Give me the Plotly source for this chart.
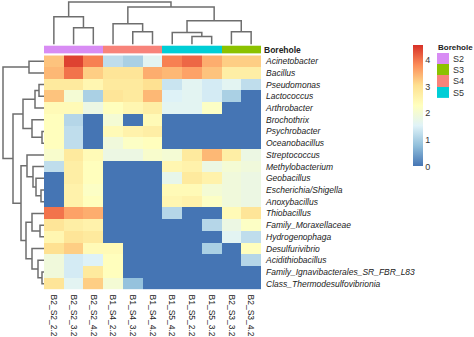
import plotly.graph_objects as go

W, H = 474, 337

species = ["Acinetobacter", "Bacillus", "Pseudomonas", "Lactococcus", "Arthrobacter",
           "Brochothrix", "Psychrobacter", "Oceanobacillus", "Streptococcus",
           "Methylobacterium", "Geobacillus", "Escherichia/Shigella", "Anoxybacillus",
           "Thiobacillus", "Family_Moraxellaceae", "Hydrogenophaga", "Desulfurivibrio",
           "Acidithiobacillus", "Family_Ignavibacterales_SR_FBR_L83",
           "Class_Thermodesulfovibrionia"]

samples = ["B2_S2_2.2", "B2_S2_3.2", "B2_S2_4.2", "B1_S4_2.2", "B1_S4_3.2", "B1_S4_4.2",
           "B1_S5_4.2", "B1_S5_2.2", "B1_S5_3.2", "B2_S3_3.2", "B2_S3_4.2"]

borehole = ["S2", "S2", "S2", "S4", "S4", "S4", "S5", "S5", "S5", "S3", "S3"]
borehole_levels = ["S2", "S3", "S4", "S5"]
borehole_colors = ["#D88CF4", "#8CC200", "#F8837A", "#00CED6"]

values = [
    [3.3, 4.4, 3.9, 1.2, 1.0, 1.6, 3.9, 4.1, 3.5, 3.2, 3.2],
    [3.4, 4.0, 3.2, 2.9, 2.9, 3.5, 3.4, 3.6, 3.3, 2.7, 2.7],
    [2.8, 2.8, 2.5, 2.8, 2.8, 3.0, 1.3, 1.6, 1.4, 1.6, 1.2],
    [3.3, 2.0, 1.0, 2.9, 2.8, 3.4, 1.5, 1.6, 1.4, 1.0, 0.0],
    [2.4, 2.4, 1.8, 2.3, 2.5, 2.7, 1.6, 1.6, 2.2, 0.0, 0.0],
    [2.3, 1.1, 0.0, 2.0, 0.0, 2.4, 0.0, 0.0, 0.0, 0.0, 0.0],
    [2.3, 1.2, 0.0, 2.4, 2.6, 2.7, 0.0, 0.0, 0.0, 0.0, 0.0],
    [2.3, 1.2, 0.0, 1.9, 2.2, 2.3, 0.0, 0.0, 0.0, 0.0, 0.0],
    [2.1, 2.8, 2.4, 1.8, 1.8, 2.1, 2.0, 2.8, 3.4, 2.7, 1.8],
    [1.2, 2.7, 2.3, 0.0, 0.0, 0.0, 2.5, 2.6, 1.8, 2.0, 1.9],
    [0.0, 2.7, 2.3, 0.0, 0.0, 0.0, 1.7, 2.8, 2.6, 1.9, 1.8],
    [0.0, 2.6, 2.2, 0.0, 0.0, 0.0, 2.4, 2.4, 2.0, 1.9, 1.8],
    [0.0, 2.6, 2.3, 0.0, 0.0, 0.0, 2.5, 2.6, 2.2, 1.9, 1.8],
    [4.0, 3.6, 3.5, 0.0, 0.0, 0.0, 1.1, 0.0, 0.0, 2.4, 2.9],
    [2.9, 2.7, 2.6, 0.0, 0.0, 0.0, 0.0, 0.0, 1.1, 1.8, 2.2],
    [2.5, 2.9, 2.8, 0.0, 0.0, 0.0, 0.0, 0.0, 0.0, 1.6, 1.2],
    [3.0, 3.2, 2.4, 2.4, 0.0, 0.0, 0.0, 0.0, 1.0, 0.0, 2.3],
    [1.9, 1.4, 1.5, 2.3, 0.0, 0.0, 0.0, 0.0, 0.0, 0.0, 1.1],
    [1.9, 1.4, 2.8, 2.3, 0.0, 0.0, 0.0, 0.0, 0.0, 0.0, 0.0],
    [2.9, 1.6, 3.2, 2.0, 0.8, 0.0, 0.0, 0.0, 0.0, 0.0, 0.0],
]

# dendrogram merges: (child_a, child_b, height); ids < n are leaves, n+k is merge k
row_merges = [
    (0, 1, 15), (2, 3, 5), (21, 4, 9), (6, 7, 2), (5, 23, 12), (22, 24, 21),
    (11, 12, 3), (10, 26, 8), (9, 27, 11), (8, 28, 17), (14, 15, 4), (13, 30, 12),
    (18, 19, 2), (17, 32, 6), (16, 33, 12), (31, 34, 18), (29, 35, 23), (25, 36, 31),
    (20, 37, 41),
]
col_merges = [
    (1, 2, 17), (0, 11, 28), (4, 5, 13), (3, 13, 21), (7, 8, 8), (6, 15, 12),
    (9, 10, 13), (16, 17, 24), (14, 18, 38), (12, 19, 43),
]

rdylbu = ["#4575B4", "#91BFDB", "#E0F3F8", "#FFFFBF", "#FEE090", "#FC8D59", "#D73027"]
colorscale = [[i / 6, c] for i, c in enumerate(rdylbu)]


def dendro_lines(n, merges):
    pos = {i: float(i) for i in range(n)}
    hgt = {i: 0.0 for i in range(n)}
    ps, hs = [], []
    for k, (a, b, h) in enumerate(merges):
        ps += [pos[a], pos[a], pos[b], pos[b], None]
        hs += [hgt[a], h, h, hgt[b], None]
        pos[n + k] = (pos[a] + pos[b]) / 2
        hgt[n + k] = h
    return ps, hs


def px_x(x):
    return x / W


def px_y(y):
    return 1 - y / H


fig = go.Figure()

# main heatmap
fig.add_trace(go.Heatmap(
    z=values, x=list(range(len(samples))), y=list(range(len(species))),
    coloraxis="coloraxis", xaxis="x", yaxis="y", hoverinfo="skip"))

# annotation bar
bh_idx = [borehole_levels.index(b) for b in borehole]
disc = []
for i, c in enumerate(borehole_colors):
    disc += [[i / 4, c], [(i + 1) / 4, c]]
fig.add_trace(go.Heatmap(
    z=[bh_idx], x=list(range(len(samples))), y=[0], zmin=-0.5, zmax=3.5,
    colorscale=disc, showscale=False, xaxis="x", yaxis="y2", hoverinfo="skip"))

# legend boxes
fig.add_trace(go.Heatmap(
    z=[[i] for i in range(4)], x=[0], y=list(range(4)), zmin=-0.5, zmax=3.5,
    colorscale=disc, showscale=False, xaxis="x3", yaxis="y3", hoverinfo="skip"))

# column dendrogram
cp, ch = dendro_lines(len(samples), col_merges)
fig.add_trace(go.Scatter(x=cp, y=ch, mode="lines", line=dict(color="#6E6E6E", width=1.5),
                         xaxis="x4", yaxis="y4", hoverinfo="skip", showlegend=False))

# row dendrogram
rp, rh = dendro_lines(len(species), row_merges)
fig.add_trace(go.Scatter(x=rh, y=rp, mode="lines", line=dict(color="#6E6E6E", width=1.5),
                         xaxis="x5", yaxis="y5", hoverinfo="skip", showlegend=False))

hm_x = [px_x(44), px_x(261)]
hm_y = [px_y(292), px_y(55)]
blank = dict(showgrid=False, zeroline=False, showticklabels=False, ticks="", showline=False)
font = "Liberation Sans, Arial, sans-serif"

fig.update_layout(
    width=W, height=H, margin=dict(l=0, r=0, t=0, b=0),
    paper_bgcolor="white", plot_bgcolor="white", showlegend=False,
    font=dict(family=font, color="#222222"),
    coloraxis=dict(
        colorscale=colorscale, cmin=0, cmax=4.55,
        colorbar=dict(x=px_x(413), xanchor="left", y=px_y(45), yanchor="top",
                      len=121, lenmode="pixels", thickness=10, thicknessmode="pixels",
                      xpad=0, ypad=0, outlinewidth=0, tickvals=[0, 1, 2, 3, 4],
                      ticks="", tickfont=dict(size=9, color="#333333"))),
    xaxis=dict(domain=hm_x, range=[-0.5, 10.5], showgrid=False, zeroline=False,
               tickvals=list(range(len(samples))), ticktext=samples, tickangle=90,
               ticks="", tickfont=dict(size=8.5), ticklabelstandoff=4),
    yaxis=dict(domain=hm_y, range=[len(species) - 0.5, -0.5], showgrid=False, zeroline=False,
               side="right", tickvals=list(range(len(species))),
               ticktext=[f"<i>{s}</i>" for s in species], ticks="",
               tickfont=dict(size=8.5), ticklabelstandoff=4),
    yaxis2=dict(domain=[px_y(53.5), px_y(45)], range=[-0.5, 0.5], anchor="x",
                showgrid=False, zeroline=False, side="right", tickvals=[0],
                ticktext=["<b>Borehole</b>"], ticks="", tickfont=dict(size=8.5),
                ticklabelstandoff=2),
    xaxis3=dict(domain=[px_x(437), px_x(449)], range=[-0.5, 0.5], anchor="y3", **blank),
    yaxis3=dict(domain=[px_y(98.5), px_y(52.5)], range=[3.5, -0.5], anchor="x3",
                showgrid=False, zeroline=False, side="right", tickvals=list(range(4)),
                ticktext=borehole_levels, ticks="", tickfont=dict(size=9, color="#333333"),
                ticklabelstandoff=3),
    xaxis4=dict(domain=hm_x, range=[-0.5, 10.5], anchor="y4", **blank),
    yaxis4=dict(domain=[px_y(44), 1], range=[0, 44], anchor="x4", **blank),
    xaxis5=dict(domain=[0, px_x(44)], range=[44, 0], anchor="y5", **blank),
    yaxis5=dict(domain=hm_y, range=[len(species) - 0.5, -0.5], anchor="x5", **blank),
    annotations=[dict(text="<b>Borehole</b>", x=px_x(436), y=px_y(47), xref="paper",
                      yref="paper", xanchor="left", yanchor="middle", showarrow=False,
                      font=dict(size=8, color="#222222"))],
)

fig.write_html("out.html")
